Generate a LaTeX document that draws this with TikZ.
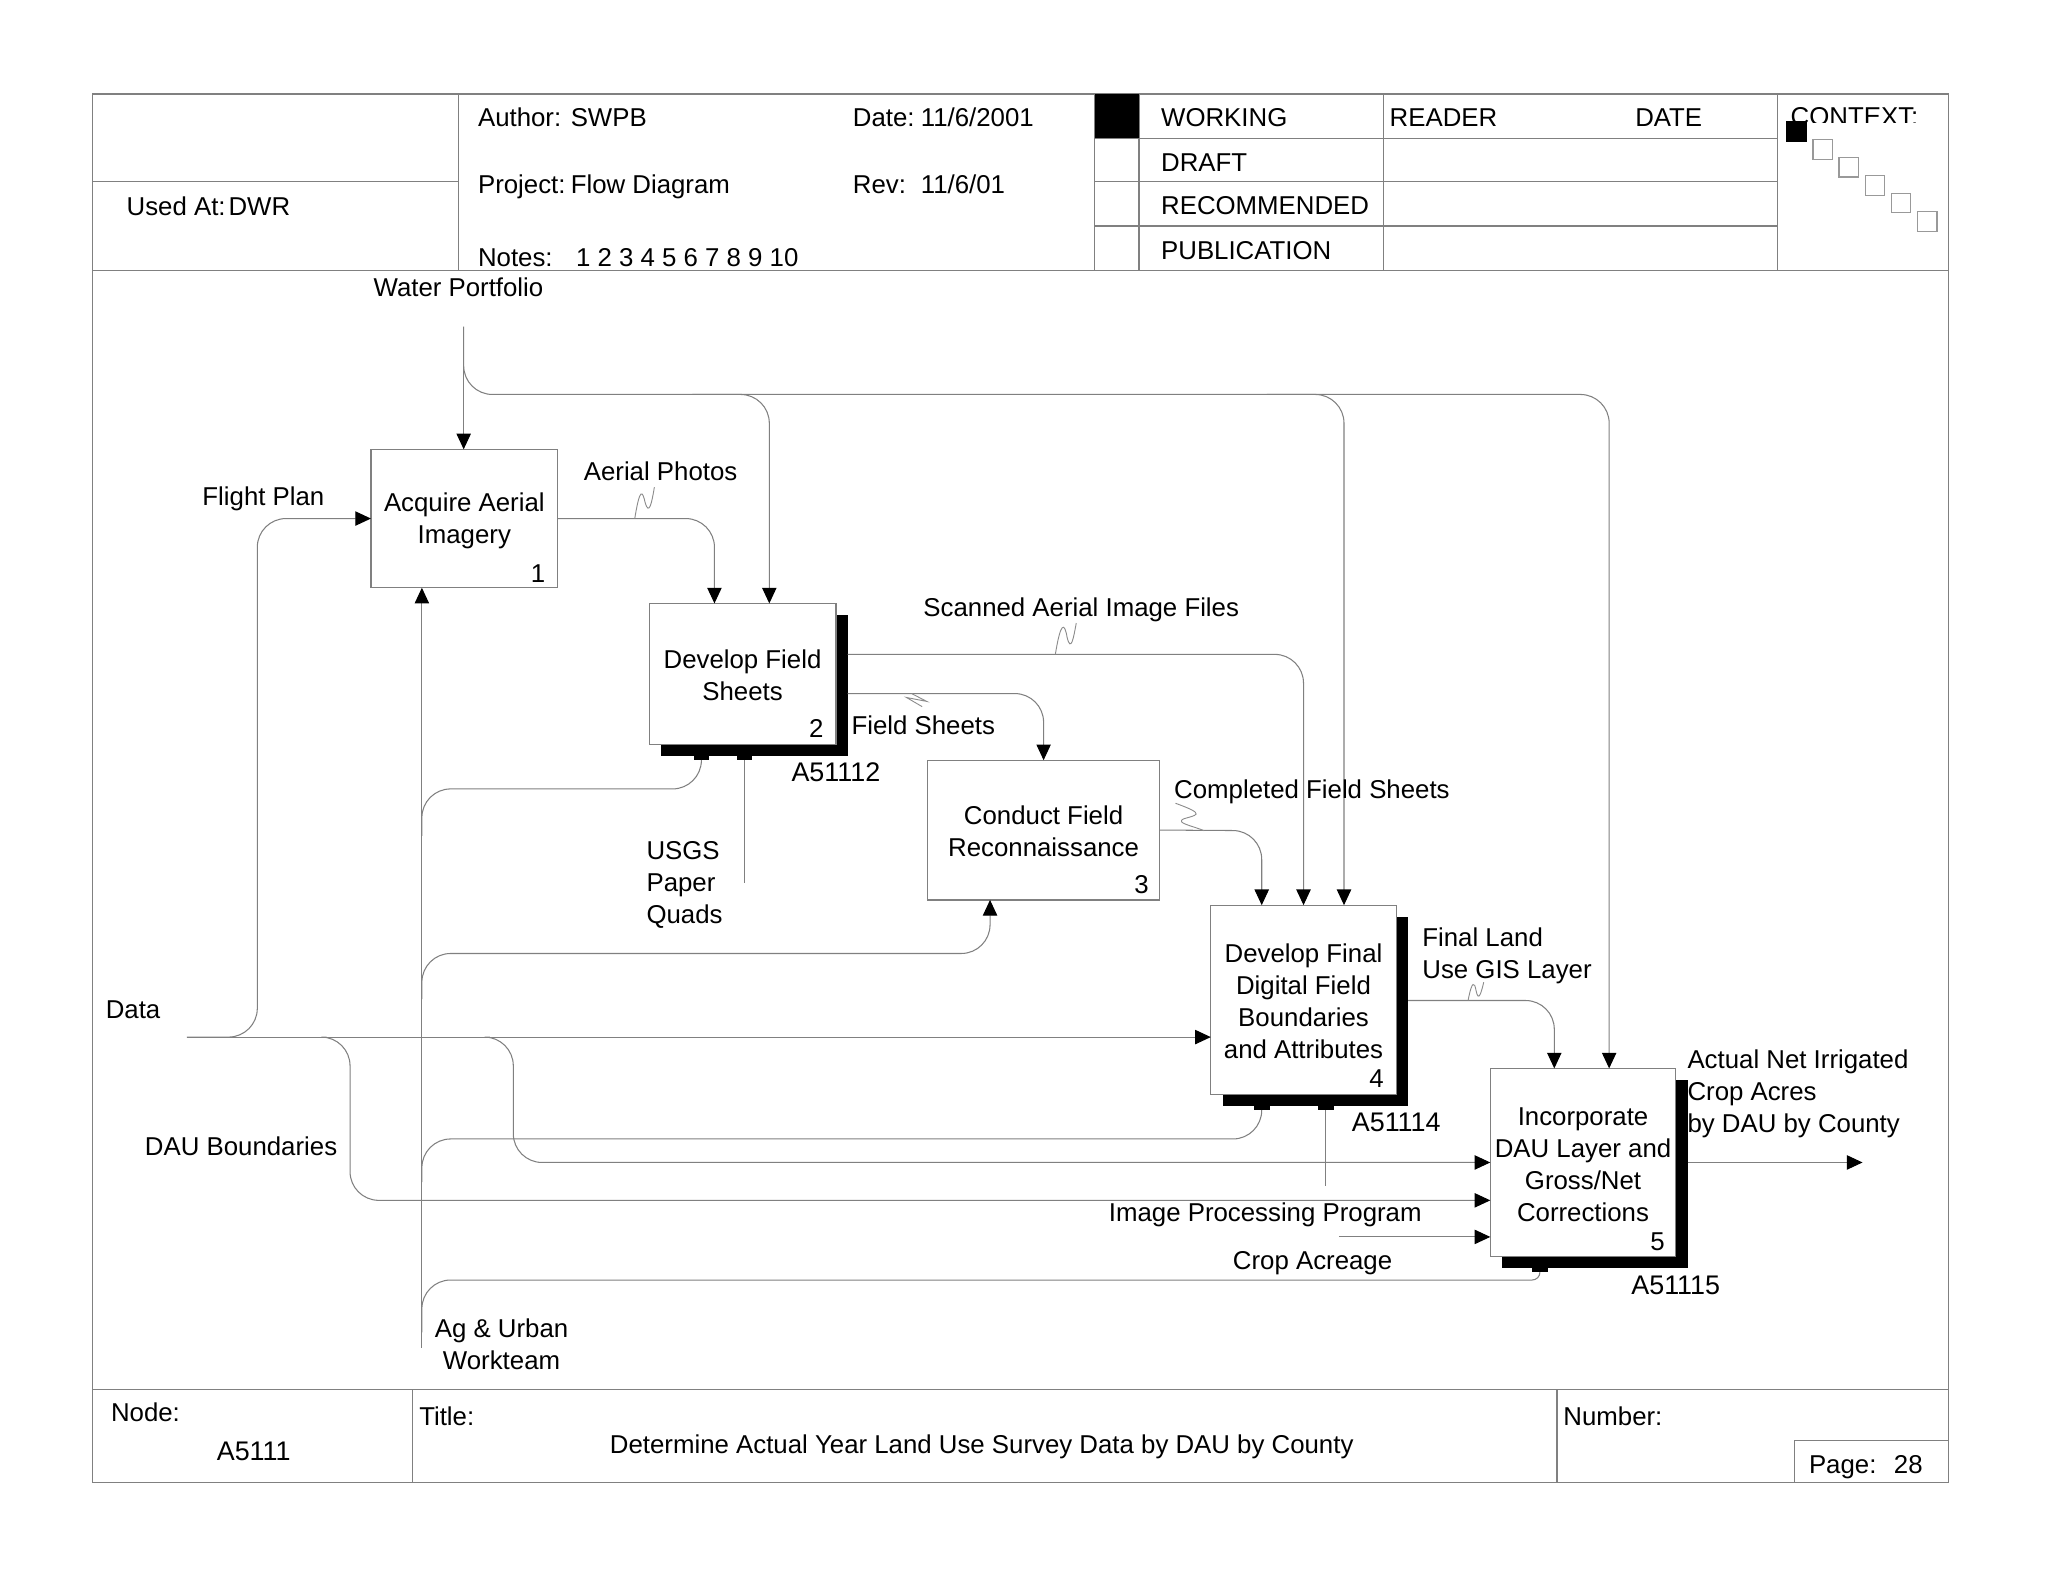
\documentclass[tikz,border=0pt]{standalone}
\usepackage{fontspec}
\setmainfont{Liberation Sans}
\usetikzlibrary{arrows.meta}
\newcommand\upshift[1]{\rule{0pt}{#1}}
\tikzset{
  every node/.style={font=\fontsize{9.88}{12.25}\selectfont,inner sep=0pt,outer sep=0pt},
  lab/.style={anchor=base west,align=left},
  clab/.style={anchor=base,align=center},
  numlab/.style={lab,font=\fontsize{10.3}{12.25}\selectfont},
  frameline/.style={draw=black!50,line width=0.45pt},
  conn/.style={draw=black!50,line width=0.4pt,rounded corners=11pt},
  arr/.style={conn,-{Triangle[length=6pt,width=5.5pt,fill=black,color=black]}},
  squig/.style={draw=black!45,line width=0.35pt},
  actbox/.style={draw=black!50,line width=0.45pt,fill=white,align=center},
  statebox/.style={draw=black!40,line width=0.45pt,fill=white,minimum width=7.5pt,minimum height=7.5pt},
  statefill/.style={draw=black,fill=black,minimum width=7.5pt,minimum height=7.5pt},
}
\begin{document}
\begin{tikzpicture}[x=0.5pt,y=-0.5pt]
\useasboundingbox (0,0) rectangle (1568,1211.2);
\fill[white] (0,0) rectangle (1568,1211.2);
% frame
\draw[frameline] (71,72) rectangle (1492,1135);
\draw[frameline] (71,207) -- (1492,207);
\draw[frameline] (71,1064) -- (1492,1064);
\draw[frameline] (351,72) -- (351,207);
\draw[frameline] (71,139) -- (351,139);
\draw[frameline] (838,72) -- (838,207);
\draw[frameline] (872,72) -- (872,207);
\draw[frameline] (1059,72) -- (1059,207);
\draw[frameline] (1361,72) -- (1361,207);
\draw[frameline] (838,106) -- (1361,106);
\draw[frameline] (838,139) -- (1361,139);
\draw[frameline] (838,173) -- (1361,173);
\fill[black] (838,72) rectangle (872,106);
\draw[frameline] (316,1064) -- (316,1135);
\draw[frameline] (1192,1064) -- (1192,1135);
\draw[frameline] (1374,1135) -- (1374,1103) -- (1492,1103);
% header text
\node[lab] (usedat) at (97,165) {Used At:};
\node[lab] (usedatv) at (175,165) {DWR};
\node[lab] (author) at (366,97) {Author:};
\node[lab] (authorv) at (437,97) {SWPB};
\node[lab] (project) at (366,148.5) {Project:};
\node[lab] (projectv) at (437,148.5) {Flow Diagram};
\node[lab] (notes) at (366,204) {Notes:};
\node[lab] (notesv) at (441,204) {1 2 3 4 5 6 7 8 9 10};
\node[lab] (date) at (653,97) {Date:};
\node[lab] (datev) at (705,97) {11/6/2001};
\node[lab] (rev) at (653,148.5) {Rev:};
\node[lab] (revv) at (705,148.5) {11/6/01};
\node[lab] (working) at (889,97) {WORKING};
\node[lab] (draft) at (889,131) {DRAFT};
\node[lab] (recommended) at (889,164.5) {RECOMMENDED};
\node[lab] (publication) at (889,199) {PUBLICATION};
\node[lab] (reader) at (1064,97) {READER};
\node[lab] (datecol) at (1252,97) {DATE};
\begin{scope}
\clip (1365,75) rectangle (1485,94);
\node[lab] (context) at (1371,96) {CONTEXT:};
\end{scope}
\node[statefill] (c1) at (1375.5,100.5) {};
\node[statebox] (c2) at (1395.5,114.5) {};
\node[statebox] (c3) at (1415.5,128) {};
\node[statebox] (c4) at (1435.5,142) {};
\node[statebox] (c5) at (1455.5,155.5) {};
\node[statebox] (c6) at (1475.5,169.5) {};
% footer text
\node[lab] (nodel) at (85,1088) {Node:};
\node[numlab] (nodev) at (166,1118) {A5111};
\node[lab] (titlel) at (321,1091) {Title:};
\node[lab] (titlev) at (467,1112.5) {Determine Actual Year Land Use Survey Data by DAU by County};
\node[lab] (number) at (1197,1091) {Number:};
\node[lab] (page) at (1385,1128) {Page:};
\node[lab] (pagev) at (1450,1128) {28};
% shadows
\fill[black] (506,471) rectangle (649,579);
\fill[black] (531,579) rectangle (543,582);
\fill[black] (564,579) rectangle (576,582);
\fill[black] (936,702) rectangle (1078,847);
\fill[black] (960,847) rectangle (972,850);
\fill[black] (1009,847) rectangle (1021,850);
\fill[black] (1150,827) rectangle (1292,971);
\fill[black] (1173,971) rectangle (1185,974);
% boxes
\node[actbox,minimum width=71.5pt,minimum height=53pt] (b1) at (355.5,397) {\upshift{9.2pt}Acquire Aerial\\Imagery};
\node[actbox,minimum width=71.5pt,minimum height=54pt] (b2) at (568.5,516) {\upshift{8.2pt}Develop Field\\Sheets};
\node[actbox,minimum width=89pt,minimum height=53.5pt] (b3) at (799,635.5) {\upshift{8.2pt}Conduct Field\\Reconnaissance};
\node[actbox,minimum width=71pt,minimum height=72.5pt] (b4) at (998,765.5) {\upshift{8.2pt}Develop Final\\Digital Field\\Boundaries\\and Attributes};
\node[actbox,minimum width=71pt,minimum height=72pt] (b5) at (1212,890) {\upshift{8.2pt}Incorporate\\DAU Layer and\\Gross/Net\\Corrections};
\node (n1) at (412,439) {1};
\node (n2) at (625,558) {2};
\node (n3) at (874,677) {3};
\node (n4) at (1054,826) {4};
\node (n5) at (1269,951) {5};
% free ends and ports
\coordinate (wp) at (355,250);
\coordinate (wpturn) at (355,302);
\coordinate (data) at (143,794);
\coordinate (ag) at (323,1032);
\coordinate (usgs) at (570,676);
\coordinate (imgp) at (1015,908);
\coordinate (crop) at (1025,947);
\coordinate (out) at (1426,890);
\coordinate (b2w) at (530,302);
\coordinate (b4w) at (970,302);
\coordinate (d1) at (250,794);
\coordinate (d2) at (375,794);
\coordinate (a1) at (323,640);
\coordinate (a2) at (323,765);
\coordinate (a3) at (323,905);
\coordinate (a4) at (323,1020);
\coordinate (s2e1) at (649,501);
\coordinate (s2e2) at (649,531);
\coordinate (s4e) at (1078,766);
\coordinate (s5e) at (1292,890);
% connectors
\draw[arr] (wp) -- (b1.north -| wp);
\draw[arr] (wp) -- (wpturn) -- (1232,302) -- (1232,818);
\draw[arr] (b2w) -- (589,302) -- (589,462);
\draw[arr] (b4w) -- (1029,302) -- (1029,693);
\draw[arr] (data) -- (197,794) -- (197,397) -- (284,397);
\draw[arr] (data) -- (927,794);
\draw[arr] (d1) -- (268,794) -- (268,919) -- (1141,919);
\draw[arr] (d2) -- (393,794) -- (393,890) -- (1141,890);
\draw[arr] (b1.east) -- (547,397) -- (547,462);
\draw[arr] (s2e1) -- (998,501) -- (998,693);
\draw[arr] (s2e2) -- (799,531) -- (799,582);
\draw[arr] (b3.east) -- (966,636) -- (966,693);
\draw[arr] (s4e) -- (1190,766) -- (1190,818);
\draw[arr] (s5e) -- (out);
\draw[arr] (crop) -- (1141,947);
\draw[conn] (imgp) -- (1015,850);
\draw[conn] (usgs) -- (570,582);
\draw[arr] (ag) -- (323,450);
\draw[conn] (a1) -- (323,604) -- (537,604) -- (537,582);
\draw[arr] (a2) -- (323,730) -- (758,730) -- (758,689);
\draw[conn] (a3) -- (323,872) -- (966,872) -- (966,850);
\draw[conn] (a4) -- (323,980) [rounded corners=3pt] -- (1179,980) -- (1179,974);
% squiggles
\draw[squig] (486,397) .. controls (490,372) and (492,376) .. (494,385) .. controls (497,395) and (499,385) .. (501,373);
\draw[squig] (808,501) .. controls (812,476) and (815,476) .. (817,488) .. controls (820,500) and (822,488) .. (824,477);
\draw[squig] (698,531) -- (709.5,537) -- (694,534) -- (706,541);
\draw[squig] (900,615) .. controls (925,624) and (915,624) .. (906,627) .. controls (900,630) and (912,632) .. (922,636);
\draw[squig] (1124,766) .. controls (1127,750) and (1129,752) .. (1130,758) .. controls (1132,768) and (1134,760) .. (1136,752);
% labels
\node[clab] (wpl) at (351,227) {Water Portfolio};
\node[lab] (flight) at (155,387) {Flight Plan};
\node[lab] (aerial) at (447,368) {Aerial Photos};
\node[lab] (scanned) at (707,472) {Scanned Aerial Image Files};
\node[lab] (fields) at (652,562) {Field Sheets};
\node[numlab] (a51112) at (606,598) {A51112};
\node[lab,anchor=north west] (usgsl) at (495,644) {USGS\\Paper\\Quads};
\node[lab] (completed) at (899,611) {Completed Field Sheets};
\node[lab,anchor=north west] (finall) at (1089,710) {Final Land\\Use GIS Layer};
\node[lab] (datal) at (81,780) {Data};
\node[lab] (daul) at (111,885) {DAU Boundaries};
\node[numlab] (a51114) at (1035,866) {A51114};
\node[lab,anchor=north west] (actual) at (1292,804) {Actual Net Irrigated\\Crop Acres\\by DAU by County};
\node[lab] (imgl) at (849,935) {Image Processing Program};
\node[lab] (cropl) at (944,972) {Crop Acreage};
\node[numlab] (a51115) at (1249,991) {A51115};
\node[clab,anchor=north] (agl) at (384,1009.5) {Ag \& Urban\\Workteam};
\end{tikzpicture}
\end{document}
